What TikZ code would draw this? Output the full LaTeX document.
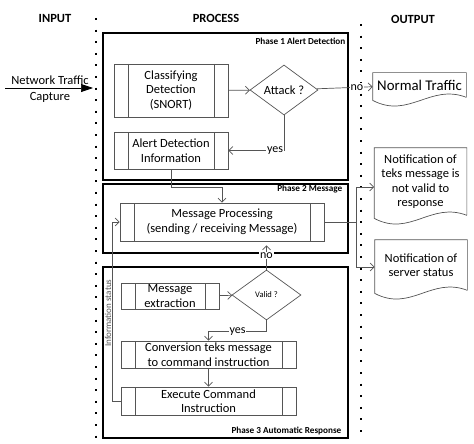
\documentclass[tikz,border=0pt]{standalone}
\usepackage{fontspec}
\setmainfont{Carlito}
\usetikzlibrary{arrows.meta,shapes.geometric,positioning}

\definecolor{linegray}{HTML}{555555}

% document shape with wavy bottom, drawn round a node
\newcommand{\docwave}[1]{%
  \draw[linegray] (#1.south east) -- (#1.north east) -- (#1.north west)
    -- ([yshift=-3pt]#1.south west)
    .. controls ([xshift=36pt,yshift=-22pt]#1.south west) and ([xshift=-36pt,yshift=14pt]#1.south east) .. (#1.south east);}

\begin{document}
\begin{tikzpicture}[
            x = 1pt, y = -1pt, % pixel units, y going down
            > = {Straight Barb[length=4pt,width=8pt]}, % open arrow head
            line width = 0.7pt, % line style
            font = \fontsize{12.5}{14.5}\selectfont
        ]

        \tikzstyle{proc}=[
            draw = linegray,
            align = center,
            inner sep = 0pt,
            path picture = {
                \draw[linegray] ([xshift=14pt]path picture bounding box.north west) -- ([xshift=14pt]path picture bounding box.south west)
                    ([xshift=-14pt]path picture bounding box.north east) -- ([xshift=-14pt]path picture bounding box.south east);
            }
        ]
        \tikzstyle{decision}=[diamond, draw = linegray, inner sep = 0pt, align = center]
        \tikzstyle{phase}=[draw = black, line width = 1.3pt, inner sep = 0pt]
        \tikzstyle{phaselabel}=[font = \fontsize{9.2}{11}\selectfont\bfseries, anchor = east, inner sep = 0pt]
        \tikzstyle{docnode}=[align = center, minimum width = 92pt, inner sep = 0pt]
        \tikzstyle{header}=[font = \fontsize{12.5}{14}\selectfont\bfseries]
        \tikzstyle{dotline}=[line width = 2pt, dash pattern = on 2pt off 9.6pt]
        \tikzstyle{flow}=[->, linegray]
        \tikzstyle{lbl}=[fill = white, text = black, inner sep = 1pt, font = \fontsize{12}{14}\selectfont]

        \useasboundingbox (0,0) rectangle (474,444);

        % columns
        \node[header] (input) at (55,18) {INPUT};
        \node[header] (process) at (216,18) {PROCESS};
        \node[header] (output) at (413,19) {OUTPUT};
        \draw[dotline] (96,18) -- (96,441);
        \draw[dotline] (361,24) -- (361,436);

        % phase frames
        \node[phase, minimum width=245pt, minimum height=147pt] (phase1) at (225.5,106.5) {};
        \node[phase, minimum width=245pt, minimum height=69pt] (phase2) at (225.5,218.5) {};
        \node[phase, minimum width=245pt, minimum height=171pt] (phase3) at (225.5,352.5) {};
        \node[phaselabel] (p1label) at ([xshift=-3pt,yshift=-9pt]phase1.north east) {Phase 1 Alert Detection};
        \node[phaselabel] (p2label) at ([xshift=-6pt,yshift=-6pt]phase2.north east) {Phase 2 Message};
        \node[phaselabel] (p3label) at ([xshift=-7pt,yshift=8pt]phase3.south east) {Phase 3 Automatic Response};

        % input
        \coordinate (netstart) at (5,88);
        \coordinate (netend) at (93,88);
        \node[align=center] (capture) at (50,89) {Network Traffic\\[2pt]Capture};
        \draw[-{Triangle[length=12pt,width=8pt]}] (netstart) -- (netend);

        % phase 1
        \node[proc, minimum width=114pt, minimum height=53pt] (classify) at (171,90.5) {Classifying\\Detection\\(SNORT)};
        \node[decision, minimum width=68pt, minimum height=50pt] (attack) at (284,90) {Attack ?};
        \node[proc, minimum width=114pt, minimum height=37pt] (alert) at (171,150.5) {Alert Detection\\Information};

        % phase 2
        \node[proc, minimum width=204pt, minimum height=38pt] (msgproc) at (222,222) {Message Processing\\(sending / receiving Message)};

        % phase 3
        \node[proc, minimum width=98pt, minimum height=26pt] (extract) at (170,296) {Message\\extraction};
        \node[decision, minimum width=69pt, minimum height=50pt, font=\fontsize{8.5}{10}\selectfont] (valid) at (266.5,295) {Valid ?};
        \node[proc, minimum width=175pt, minimum height=27pt] (convert) at (208.5,354.5) {Conversion teks message\\to command instruction};
        \node[proc, minimum width=175pt, minimum height=28pt] (execute) at (208.5,401) {Execute Command\\Instruction};

        % output
        \node[docnode, minimum width=93pt, minimum height=24pt, font=\fontsize{14.8}{17}\selectfont] (normal) at (419.5,85) {Normal Traffic};
        \node[docnode, minimum height=67pt] (notifvalid) at (420.5,181.5) {Notification of\\teks message is\\not valid to\\response};
        \node[docnode, minimum height=50pt] (notifserver) at (421,265) {Notification of\\server status};
        \docwave{normal}
        \docwave{notifvalid}
        \docwave{notifserver}

        % connectors
        \draw[flow] (classify) -- (attack);
        \draw[flow] (attack) -- node[lbl, pos=0.72] {no} (normal);
        \draw[flow] (attack.south) |- node[lbl, pos=0.58] {yes} (alert.east);
        \draw[flow] (alert.south) -- ++(0,18) -| (msgproc.north);

        \coordinate (split) at ([xshift=32pt]msgproc.east);
        \draw[linegray] (msgproc.east) -- (split);
        \draw[flow] (split) |- ([yshift=-5.5pt]notifvalid.west);
        \draw[flow] (split) |- ([yshift=-2pt]notifserver.west);

        \draw[flow] (extract) -- (valid);
        \draw[flow, shorten > = 4pt] (valid.north) -- node[lbl, pos=0.5] {no} (valid.north |- msgproc.south);
        \draw[flow] (valid.south) -- ++(0,11) -| node[lbl, pos=0.25] {yes} (convert.north);
        \draw[flow] (convert) -- (execute);
        \draw[flow] (execute.west) -- ++(-8,0) |- node[pos=0.245, rotate=90, anchor=south, inner sep=1pt, font=\fontsize{9}{10}\selectfont] {Information status} (msgproc.west);
    \end{tikzpicture}
\end{document}
